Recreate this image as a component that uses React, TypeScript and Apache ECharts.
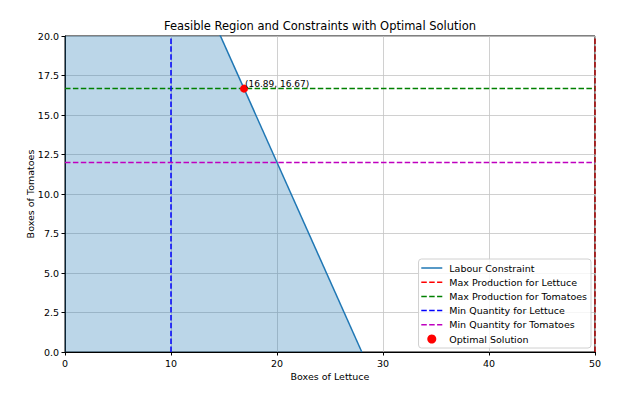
import React, { useEffect, useRef } from "react";
import * as echarts from "echarts";

const xTicksMax = 50;
const yTicksMax = 20;
const labourLine: number[][] = [[0, 42], [28, 0]];
const feasibleRegion: number[][] = [[0, 20], [14.67, 20], [28, 0]];
const maxLettuce: number[][] = [[50, 0], [50, 20]];
const maxTomatoes: number[][] = [[0, 16.67], [50, 16.67]];
const minLettuce: number[][] = [[10, 0], [10, 20]];
const minTomatoes: number[][] = [[0, 12], [50, 12]];
const optimal: number[][] = [[16.89, 16.67]];

const FONT = "DejaVu Sans";

export default function App() {
  const ref = useRef<HTMLDivElement>(null);
  useEffect(() => {
    if (!ref.current) return;
    const chart = echarts.init(ref.current, undefined, { renderer: "svg" });
    const dashed = (name: string, color: string, data: number[][]) => ({
      name,
      type: "line",
      data,
      symbol: "none",
      z: 3,
      lineStyle: { color, width: 1.5, type: [5.5, 2.4] },
      itemStyle: { color },
    });
    const lineLegend = (name: string, color: string, dash: boolean) => ({
      name,
      itemStyle: { opacity: 0 },
      lineStyle: { color, width: 1.5, type: dash ? [5.5, 2.4] : "solid" },
    });
    chart.setOption({
      animation: false,
      textStyle: { fontFamily: FONT },
      title: {
        text: "Feasible Region and Constraints with Optimal Solution",
        left: "center",
        top: 15,
        textStyle: { fontFamily: FONT, fontSize: 11.5, fontWeight: "normal", color: "#000" },
      },
      grid: {
        left: 65,
        right: 45,
        top: 36,
        bottom: 42,
        show: true,
        borderColor: "#000",
        borderWidth: 1,
        backgroundColor: "transparent",
      },
      xAxis: {
        type: "value",
        min: 0,
        max: xTicksMax,
        interval: 10,
        name: "Boxes of Lettuce",
        nameLocation: "middle",
        nameGap: 19,
        nameMoveOverlap: false,
        nameTextStyle: { fontFamily: FONT, fontSize: 9.5, color: "#000" },
        axisLine: { show: true, lineStyle: { color: "#000", width: 1 } },
        axisTick: { show: true, length: 3.5, lineStyle: { color: "#000" } },
        axisLabel: { fontFamily: FONT, fontSize: 9.5, color: "#000", margin: 6 },
        splitLine: { show: true, lineStyle: { color: "#c4c4c4", width: 0.8 } },
      },
      yAxis: {
        type: "value",
        min: 0,
        max: yTicksMax,
        interval: 2.5,
        name: "Boxes of Tomatoes",
        nameLocation: "middle",
        nameGap: 30,
        nameMoveOverlap: false,
        nameTextStyle: { fontFamily: FONT, fontSize: 9.5, color: "#000" },
        axisLine: { show: true, lineStyle: { color: "#000", width: 1 } },
        axisTick: { show: true, length: 3.5, lineStyle: { color: "#000" } },
        axisLabel: {
          fontFamily: FONT,
          fontSize: 9.5,
          color: "#000",
          margin: 6,
          formatter: (v: number) => v.toFixed(1),
        },
        splitLine: { show: true, lineStyle: { color: "#c4c4c4", width: 0.8 } },
      },
      legend: {
        orient: "vertical",
        right: 49,
        bottom: 46,
        itemWidth: 21,
        itemHeight: 9,
        itemGap: 4.2,
        padding: [4, 4, 4, 2],
        borderColor: "#d0d0d0",
        borderWidth: 1,
        borderRadius: 3,
        backgroundColor: "rgba(255,255,255,0.8)",
        textStyle: { fontFamily: FONT, fontSize: 9.5, color: "#000", padding: [0, 0, 0, 2] },
        data: [
          lineLegend("Labour Constraint", "#1f77b4", false),
          lineLegend("Max Production for Lettuce", "#ff0000", true),
          lineLegend("Max Production for Tomatoes", "#008000", true),
          lineLegend("Min Quantity for Lettuce", "#0000ff", true),
          lineLegend("Min Quantity for Tomatoes", "#bf00bf", true),
          { name: "Optimal Solution", icon: "circle", itemStyle: { color: "#ff0000", opacity: 1 } },
        ],
      },
      series: [
        {
          name: "Feasible Region",
          type: "line",
          data: feasibleRegion,
          symbol: "none",
          z: 1,
          lineStyle: { width: 0 },
          areaStyle: { color: "rgba(31,119,180,0.3)", origin: "start", opacity: 1 },
        },
        {
          name: "Labour Constraint",
          type: "line",
          data: labourLine,
          symbol: "none",
          z: 3,
          lineStyle: { color: "#1f77b4", width: 1.5 },
          itemStyle: { color: "#1f77b4" },
        },
        dashed("Max Production for Lettuce", "#a80000", maxLettuce),
        dashed("Max Production for Tomatoes", "#008000", maxTomatoes),
        dashed("Min Quantity for Lettuce", "#0000ff", minLettuce),
        dashed("Min Quantity for Tomatoes", "#bf00bf", minTomatoes),
        {
          name: "Optimal Solution",
          type: "scatter",
          data: optimal,
          symbolSize: 8,
          z: 5,
          itemStyle: { color: "#ff0000", opacity: 1 },
          label: {
            show: true,
            position: [5, -5],
            align: "left",
            verticalAlign: "top",
            fontFamily: FONT,
            fontSize: 9,
            color: "#000",
            formatter: (p: any) => `(${p.value[0].toFixed(2)}, ${p.value[1].toFixed(2)})`,
          },
        },
      ],
    });
    return () => chart.dispose();
  }, []);
  return (
    <div
      ref={ref}
      style={{ position: "fixed", left: 0, top: 0, width: 640, height: 394, background: "#fff" }}
    />
  );
}
